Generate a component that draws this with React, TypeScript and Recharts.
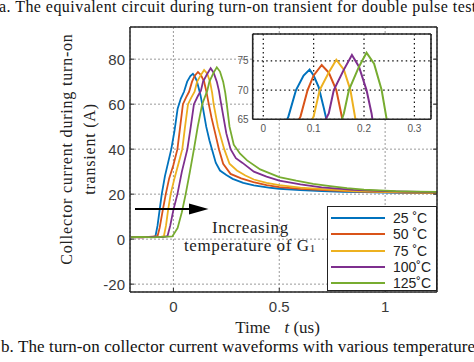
import React from 'react';
import { LineChart, Line, XAxis, YAxis, CartesianGrid, Legend } from 'recharts';

// ---- data ----
const seriesNames = ['25 ˚C', '50 ˚C', '75 ˚C', '100˚C', '125˚C'];
const seriesColors = ['#0072BD', '#D95319', '#EDB120', '#7E2F8E', '#77AC30'];

const t25 = [-0.2, -0.15, -0.1, -0.085, -0.075, -0.065, -0.055, -0.04, -0.025, -0.01, 0.005, 0.02, 0.035, 0.05, 0.065, 0.08, 0.092, 0.1, 0.11, 0.12, 0.128, 0.14, 0.155, 0.17, 0.185, 0.2, 0.22, 0.25, 0.28, 0.33, 0.38, 0.45, 0.5, 0.6, 0.7, 0.8, 0.9, 1.0, 1.1, 1.25];
const i25 = [0.8, 1.0, 0.9, 1.2, 6, 13, 20, 28, 34, 40, 48, 58, 62.5, 65.5, 70, 72.5, 73.5, 72.5, 70.5, 67, 64, 58, 50, 44, 39, 34, 30.5, 28.5, 26.8, 25, 23.9, 22.9, 22.4, 21.8, 21.3, 21, 20.9, 20.7, 20.6, 20.5];

const t50 = [-0.2, -0.15, -0.1, -0.075, -0.065, -0.05, -0.036, -0.02, 0, 0.019, 0.032, 0.045, 0.06, 0.074, 0.088, 0.1, 0.116, 0.13, 0.145, 0.157, 0.165, 0.18, 0.2, 0.215, 0.235, 0.27, 0.32, 0.378, 0.44, 0.5, 0.6, 0.74, 0.85, 1.0, 1.1, 1.25];
const i50 = [0.9, 0.8, 1.1, 1.3, 5, 13, 20, 27, 33, 40, 50, 60, 63, 65.5, 70, 72.5, 74.3, 73, 70, 65, 61, 54, 46, 40, 33.5, 29, 27, 25.3, 24, 23.1, 22.3, 21.7, 21.2, 20.9, 20.7, 20.6];

const t75 = [-0.2, -0.15, -0.1, -0.06, -0.045, -0.035, -0.025, -0.013, 0.005, 0.025, 0.042, 0.055, 0.069, 0.085, 0.1, 0.112, 0.13, 0.145, 0.16, 0.173, 0.183, 0.19, 0.21, 0.24, 0.265, 0.3, 0.34, 0.38, 0.44, 0.5, 0.6, 0.74, 0.85, 1.0, 1.1, 1.25];
const i75 = [0.8, 1.0, 0.9, 1.0, 1.3, 6, 13, 20, 27, 34, 40, 50, 60, 63, 65.5, 70, 73, 75.2, 73.5, 70, 65, 60, 50, 40, 33.5, 30.5, 28.3, 26.5, 25, 24, 22.9, 22, 21.4, 21, 20.8, 20.7];

const t100 = [-0.2, -0.15, -0.1, -0.05, -0.028, -0.015, 0, 0.019, 0.04, 0.066, 0.082, 0.097, 0.115, 0.13, 0.14, 0.16, 0.176, 0.19, 0.205, 0.215, 0.222, 0.235, 0.25, 0.27, 0.295, 0.325, 0.38, 0.44, 0.5, 0.6, 0.7, 0.85, 1.0, 1.1, 1.25];
const i100 = [0.9, 0.8, 1.0, 0.9, 1.3, 6, 13, 20, 30, 40, 50, 60, 63.5, 66, 70, 73.5, 76, 74, 70, 66, 62, 55, 47, 40, 36, 34, 30, 27.8, 26, 24.3, 23, 21.9, 21.3, 21.1, 20.9];

const t125 = [-0.2, -0.15, -0.1, -0.05, -0.005, 0.02, 0.04, 0.058, 0.078, 0.097, 0.115, 0.136, 0.15, 0.16, 0.17, 0.19, 0.205, 0.22, 0.235, 0.245, 0.252, 0.265, 0.285, 0.315, 0.348, 0.41, 0.5, 0.58, 0.66, 0.74, 0.82, 0.9, 1.05, 1.15, 1.25];
const i125 = [0.9, 1.0, 0.8, 1.0, 1.2, 5, 12, 20, 30, 40, 50, 60, 63.5, 66, 70, 74, 76.4, 74.5, 70, 65, 60, 50, 42, 38, 35, 31, 27.6, 26, 24.6, 23.6, 22.7, 22, 21.3, 21.1, 21];

const mainXTicks = [0, 0.5, 1];
const mainYTicks = [-20, 0, 20, 40, 60, 80];
const insetXTicks = [0, 0.1, 0.2, 0.3];
const insetYTicks = [65, 70, 75];

const toRows = (t: number[], v: number[]) => t.map((x, k) => ({ t: x, i: v[k] }));
const seriesData = [toRows(t25, i25), toRows(t50, i50), toRows(t75, i75), toRows(t100, i100), toRows(t125, i125)];

const SERIF = '"Liberation Serif", "Times New Roman", serif';
const SANS = '"Liberation Sans", Arial, sans-serif';
const AX = '#262626';
const TICKC = '#3a3a3a';

const mainBottomTick = (p: any) => (
  <g>
    <line x1={p.x} x2={p.x} y1={p.y} y2={p.y - 4} stroke={AX} strokeWidth={1} />
    <text x={p.x} y={p.y + 20} textAnchor="middle" fontFamily={SANS} fontSize={15} fill={TICKC}>{p.payload.value}</text>
  </g>
);
const mainLeftTick = (p: any) => (
  <g>
    <line x1={p.x} x2={p.x + 4} y1={p.y} y2={p.y} stroke={AX} strokeWidth={1} />
    <text x={p.x - 5} y={p.y + 5.4} textAnchor="end" fontFamily={SANS} fontSize={15} fill={TICKC}>{p.payload.value}</text>
  </g>
);
const mainTopTick = (p: any) => (
  <line x1={p.x} x2={p.x} y1={p.y} y2={p.y + 4} stroke={AX} strokeWidth={1} />
);
const mainRightTick = (p: any) => (
  <line x1={p.x} x2={p.x - 4} y1={p.y} y2={p.y} stroke={AX} strokeWidth={1} />
);
const insetBottomTick = (p: any) => (
  <text x={p.x} y={p.y + 12.5} textAnchor="middle" fontFamily={SANS} fontSize={10} fill="#555">{p.payload.value}</text>
);
const insetLeftTick = (p: any) => (
  <text x={p.x - 4} y={p.y + 3.6} textAnchor="end" fontFamily={SANS} fontSize={10} fill="#555">{p.payload.value}</text>
);

const renderLegend = (props: any) => {
  const items = ([...(props.payload || [])] as any[]).sort(
    (a, b) => seriesNames.indexOf(a.value) - seriesNames.indexOf(b.value)
  );
  return (
    <div style={{ boxSizing: 'border-box', width: 110, height: 85, border: '1.3px solid #222', background: '#fff', paddingTop: 3 }}>
      {items.map((it, k) => (
        <div key={k} style={{ display: 'flex', alignItems: 'center', height: 16.3 }}>
          <div style={{ width: 54, height: 0, borderTop: `2px solid ${it.color}`, marginLeft: 3 }} />
          <span style={{ marginLeft: 8, fontFamily: SANS, fontSize: 14, color: '#222', lineHeight: '16px' }}>{it.value}</span>
        </div>
      ))}
    </div>
  );
};

export default function App() {
  return (
    <div style={{ position: 'absolute', left: 0, top: 0, width: 474, height: 362, background: '#fff', overflow: 'hidden' }}>
      {/* main chart */}
      <div style={{ position: 'absolute', left: 0, top: 0 }}>
        <LineChart width={474} height={362} margin={{ top: 17, right: 27, bottom: 40, left: 80 }}>
          <CartesianGrid stroke="#9a9a9a" strokeDasharray="2 2" strokeWidth={1} />
          <XAxis dataKey="t" type="number" domain={[-0.205, 1.245]} allowDataOverflow ticks={mainXTicks} interval={0}
            height={30} tickSize={0} tickMargin={0} tickLine={false} tick={mainBottomTick}
            axisLine={{ stroke: AX, strokeWidth: 1.5 }} />
          <XAxis xAxisId="top" orientation="top" type="number" domain={[-0.205, 1.245]} allowDataOverflow ticks={mainXTicks} interval={0}
            height={10} tickSize={0} tickMargin={0} tickLine={false} tick={mainTopTick}
            axisLine={{ stroke: AX, strokeWidth: 1.5 }} />
          <YAxis type="number" domain={[-23.5, 94.3]} allowDataOverflow ticks={mainYTicks} interval={0}
            width={50} tickSize={0} tickMargin={0} tickLine={false} tick={mainLeftTick}
            axisLine={{ stroke: AX, strokeWidth: 1.5 }} />
          <YAxis yAxisId="right" orientation="right" type="number" domain={[-23.5, 94.3]} allowDataOverflow ticks={mainYTicks} interval={0}
            width={10} tickSize={0} tickMargin={0} tickLine={false} tick={mainRightTick}
            axisLine={{ stroke: AX, strokeWidth: 1.5 }} />
          {seriesData.map((d, k) => (
            <Line key={k} data={d} dataKey="i" name={seriesNames[k]} stroke={seriesColors[k]} strokeWidth={1.8}
              dot={false} activeDot={false} isAnimationActive={false} type="linear" />
          ))}
          <Legend layout="horizontal" verticalAlign="middle" align="center" content={renderLegend}
            wrapperStyle={{ position: 'absolute', left: 327, top: 206, width: 110, height: 85 }} />
        </LineChart>
      </div>

      {/* annotations */}
      <svg width={474} height={362} style={{ position: 'absolute', left: 0, top: 0, pointerEvents: 'none' }}>
        <text x={-1} y={12} fontFamily={SERIF} fontSize={16} letterSpacing={0.45} fill="#111">a. The equivalent circuit during turn-on transient for double pulse test</text>
        <text x={1} y={352} fontFamily={SERIF} fontSize={17} letterSpacing={0.1} fill="#111">b. The turn-on collector current waveforms with various temperature</text>
        <text transform="translate(72,149) rotate(-90)" textAnchor="middle" fontFamily={SERIF} fontSize={16} letterSpacing={0.8} fill="#222">Collector current during turn-on</text>
        <text transform="translate(95,149) rotate(-90)" textAnchor="middle" fontFamily={SERIF} fontSize={16} letterSpacing={0.8} fill="#222">transient (A)</text>
        <text x={277.5} y={333} textAnchor="middle" fontFamily={SERIF} fontSize={17} fill="#222">
          Time<tspan dx={14} fontStyle="italic">t</tspan> (us)
        </text>
        <line x1={135} y1={209} x2={192} y2={209} stroke="#000" strokeWidth={2.2} />
        <polygon points="189,203.5 208.5,209 189,214.5" fill="#000" />
        <text x={212} y={233} fontFamily={SERIF} fontSize={17} letterSpacing={0.6} fill="#222">Increasing</text>
        <text x={184} y={251} fontFamily={SERIF} fontSize={17} letterSpacing={0.6} fill="#222">
          temperature of G<tspan fontSize={11} dy={1}>1</tspan>
        </text>
      </svg>

      {/* inset chart */}
      <div style={{ position: 'absolute', left: 0, top: 0, pointerEvents: 'none' }}>
        <LineChart width={474} height={362} margin={{ top: 29, right: 38, bottom: 222.7, left: 212.7 }}>
          <CartesianGrid stroke="#111" strokeDasharray="1.5 3" strokeWidth={1.2} fill="#fff" fillOpacity={1} />
          <XAxis dataKey="t" type="number" domain={[-0.021, 0.333]} allowDataOverflow ticks={insetXTicks} interval={0}
            height={20} tickSize={0} tickMargin={0} tickLine={false} tick={insetBottomTick}
            axisLine={{ stroke: AX, strokeWidth: 1.6 }} />
          <XAxis xAxisId="top" orientation="top" type="number" domain={[-0.021, 0.333]} allowDataOverflow ticks={insetXTicks}
            height={5} tick={false} tickLine={false} axisLine={{ stroke: AX, strokeWidth: 1.6 }} />
          <YAxis type="number" domain={[65, 79.6]} allowDataOverflow ticks={insetYTicks} interval={0}
            width={40} tickSize={0} tickMargin={0} tickLine={false} tick={insetLeftTick}
            axisLine={{ stroke: AX, strokeWidth: 1.6 }} />
          <YAxis yAxisId="right" orientation="right" type="number" domain={[65, 79.6]} allowDataOverflow ticks={insetYTicks}
            width={5} tick={false} tickLine={false} axisLine={{ stroke: AX, strokeWidth: 1.6 }} />
          {seriesData.map((d, k) => (
            <Line key={k} data={d} dataKey="i" name={seriesNames[k]} stroke={seriesColors[k]} strokeWidth={2}
              dot={false} activeDot={false} isAnimationActive={false} type="linear" />
          ))}
        </LineChart>
      </div>
    </div>
  );
}
